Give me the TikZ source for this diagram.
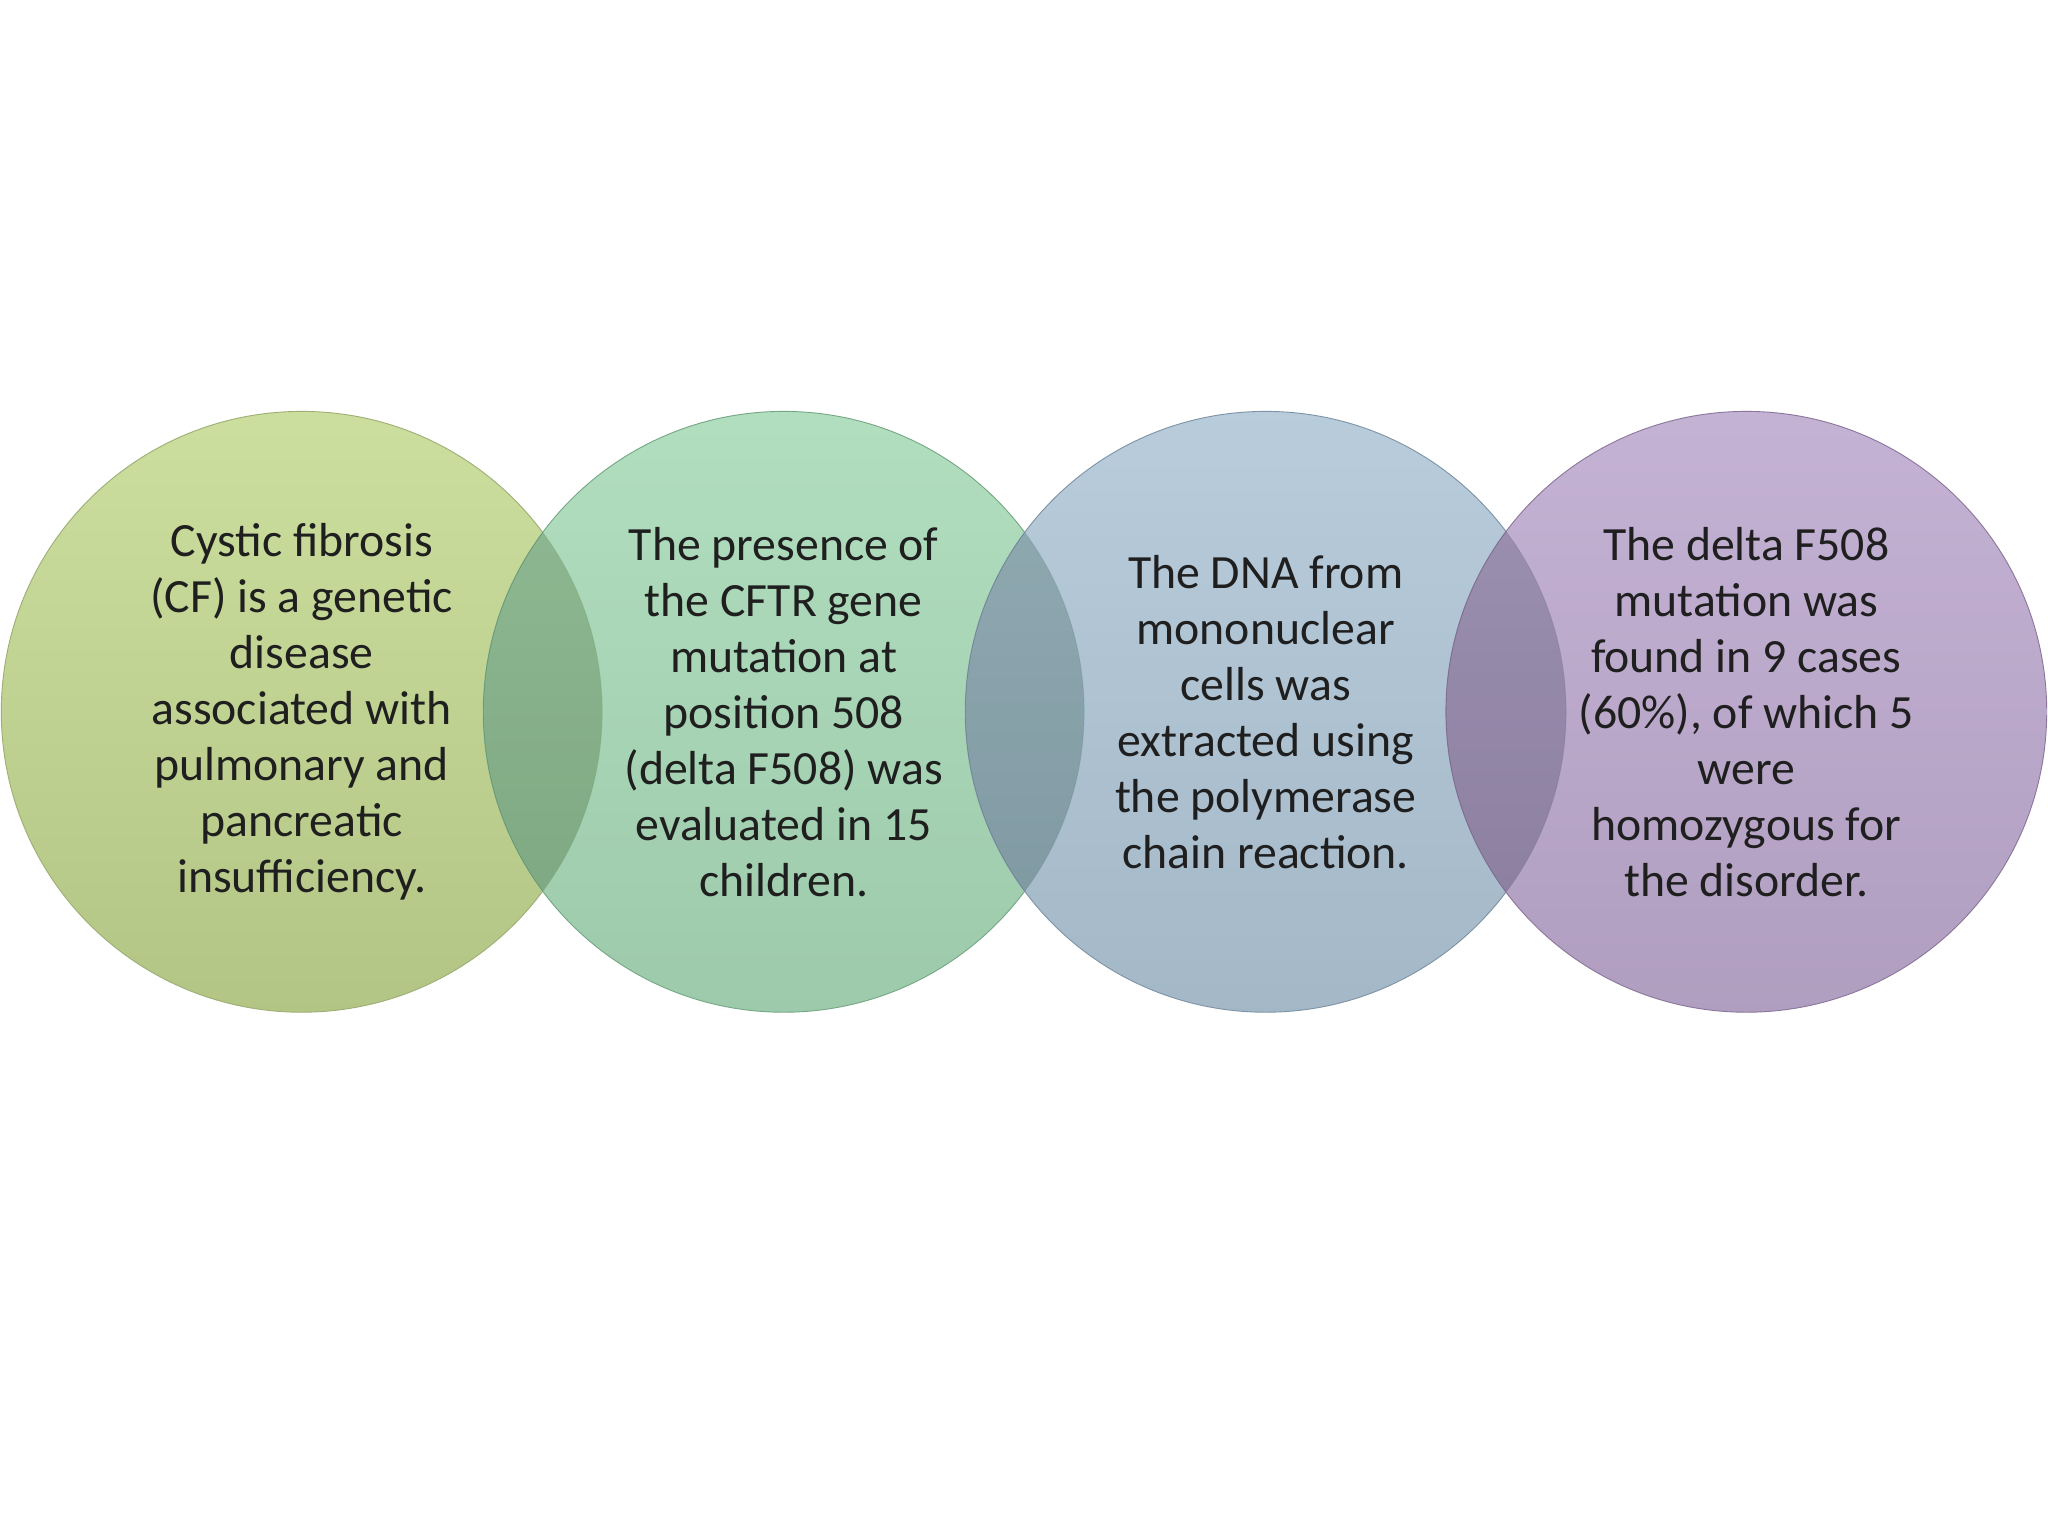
\documentclass[tikz,border=0pt]{standalone}
\usepackage{fontspec}
\setmainfont{Carlito}
\usetikzlibrary{shadings}
\definecolor{cA}{HTML}{C6DB93}
\definecolor{cB}{HTML}{93D2A6}
\definecolor{cC}{HTML}{9DB9CF}
\definecolor{cD}{HTML}{AE95C4}
\tikzset{
  blob/.style={circle, minimum size=4.6cm, inner sep=0pt},
  txt/.style={align=center, font=\fontsize{10.4}{12.2}\selectfont, text=black!88}
}
\begin{document}
\begin{tikzpicture}
\fill[white] (0,0) rectangle (15.68,11.76);
\node[blob, top color=cA!90, bottom color=cA!90!black, draw=cA!80!black, line width=0.2pt] (a) at (2.31,6.31) {};
\node[blob, top color=cB!90, bottom color=cB!90!black, draw=cB!80!black, line width=0.2pt, fill opacity=0.8] (b) at (6.00,6.31) {};
\node[blob, top color=cC!90, bottom color=cC!90!black, draw=cC!80!black, line width=0.2pt, fill opacity=0.8] (c) at (9.69,6.31) {};
\node[blob, top color=cD!90, bottom color=cD!90!black, draw=cD!80!black, line width=0.2pt, fill opacity=0.8] (d) at (13.37,6.31) {};
\foreach \p/\q in {a/b,b/c,c/d}{
  \begin{scope}
    \clip (\p) circle (2.3);
    \fill[black, opacity=0.13] (\q) circle (2.3);
  \end{scope}
}
\node[txt] (ta) at (a) {Cystic fibrosis\\(CF) is a genetic\\disease\\associated with\\pulmonary and\\pancreatic\\insufficiency.};
\node[txt] (tb) at (b) {The presence of\\the CFTR gene\\mutation at\\position 508\\(delta F508) was\\evaluated in 15\\children.};
\node[txt] (tc) at (c) {The DNA from\\mononuclear\\cells was\\extracted using\\the polymerase\\chain reaction.};
\node[txt] (td) at (d) {The delta F508\\mutation was\\found in 9 cases\\(60\%), of which 5\\were\\homozygous for\\the disorder.};
\end{tikzpicture}
\end{document}
